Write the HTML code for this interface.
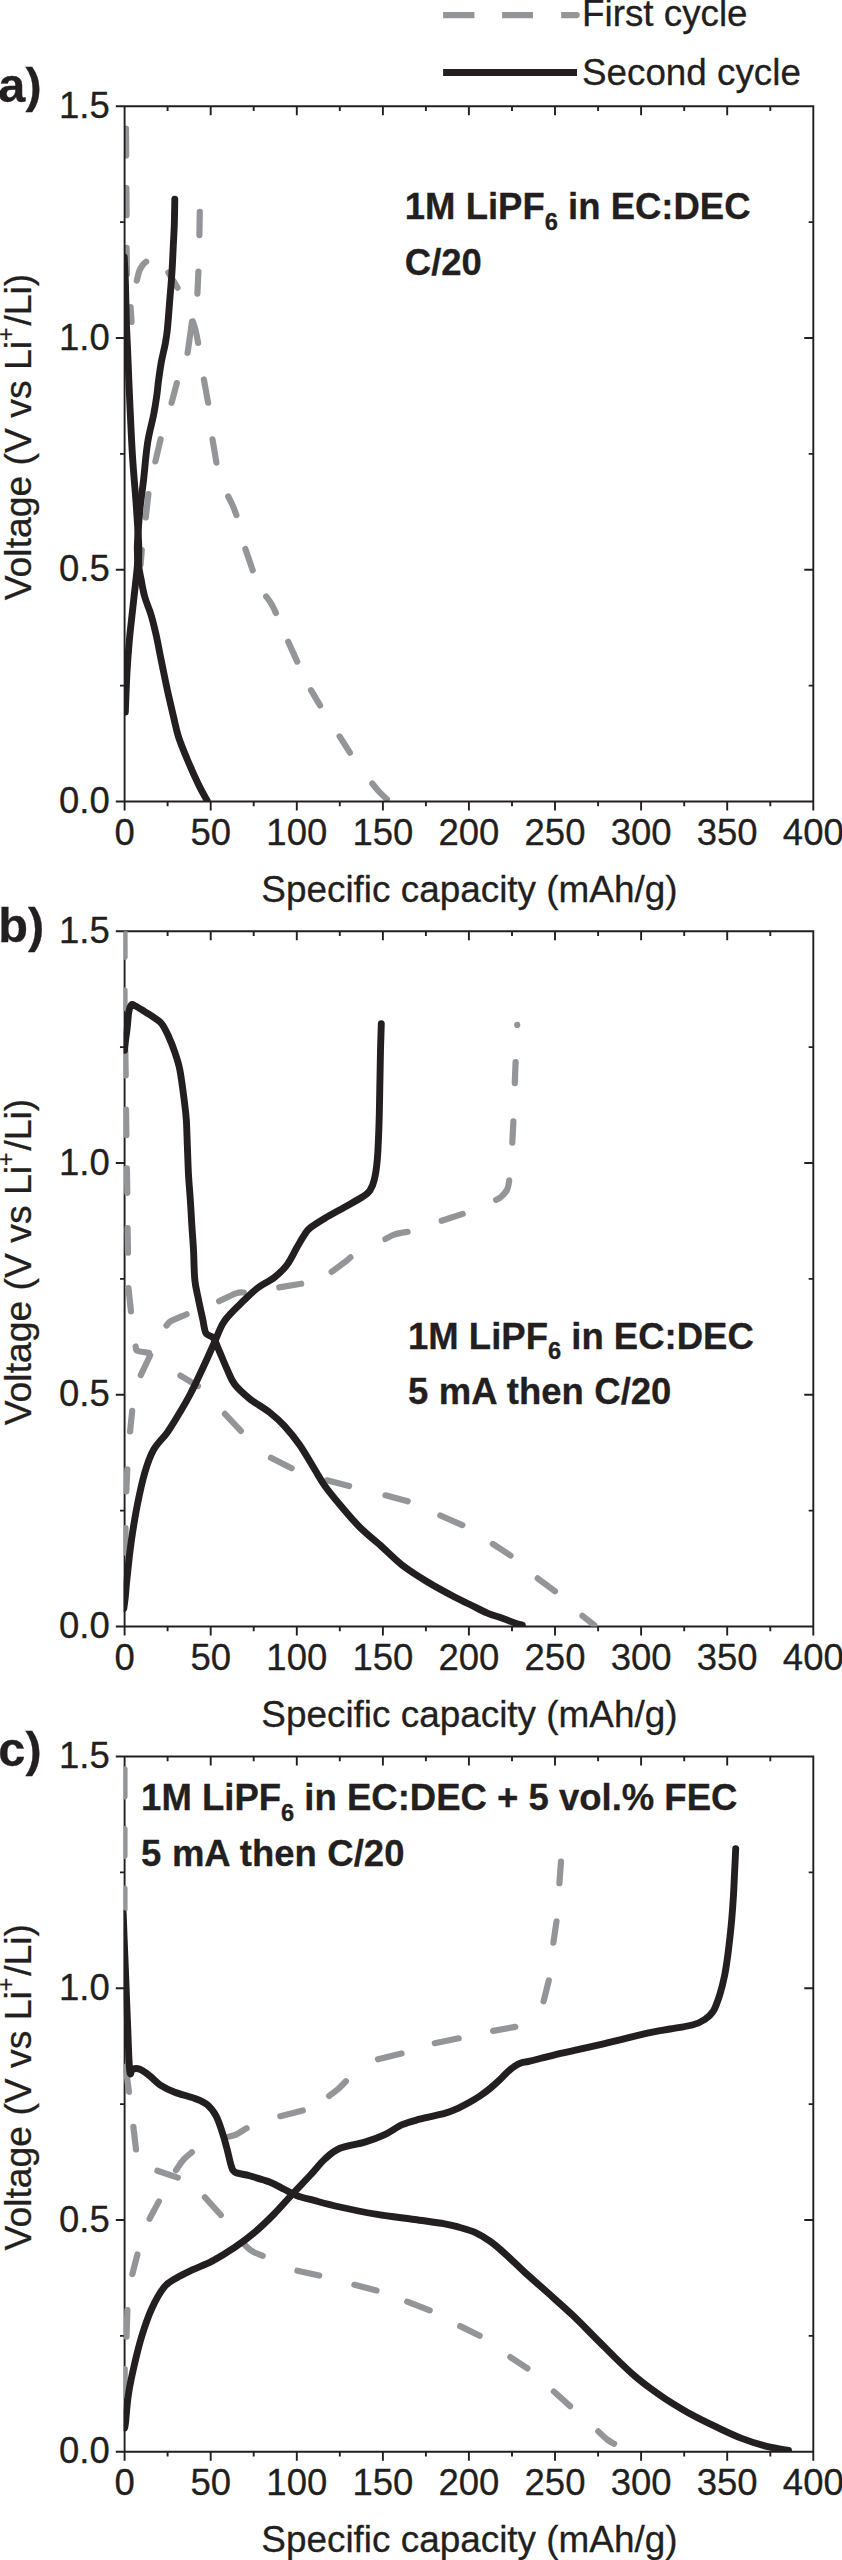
<!DOCTYPE html>
<html lang="en">
<head>
<meta charset="utf-8">
<title>Voltage profiles</title>
<style>
html,body{margin:0;padding:0;background:#fff;}
body{width:842px;height:2560px;overflow:hidden;}
svg{display:block;}
text{white-space:pre;}
</style>
</head>
<body>
<svg width="842" height="2560" viewBox="0 0 842 2560">
<rect width="842" height="2560" fill="#fff"/>
<defs>
<clipPath id="cp0"><rect x="124.6" y="106.2" width="688.7" height="695.2"/></clipPath>
<clipPath id="cp1"><rect x="123.6" y="931.2" width="689.7" height="695.2"/></clipPath>
<clipPath id="cp2"><rect x="123.6" y="1756.5" width="689.7" height="695.2"/></clipPath>
</defs>
<g fill="none" stroke-width="6.2">
<path d="M443.1 15.1H474.4M502.1 15.1H533M561.2 15.1H576.7" stroke="#939598"/>
<circle cx="576.7" cy="15.1" r="3.1" fill="#939598" stroke="none"/>
<path d="M443.1 72.5H577" stroke="#231f20" stroke-width="6.9"/>
</g>
<g font-family='"Liberation Sans", Arial, Helvetica, sans-serif' font-size="36.5" fill="#231f20" stroke="#231f20" stroke-width="0.3" stroke-linejoin="round">
<text x="582" y="26.3" font-size="36.8">First cycle</text>
<text x="582" y="84.9" font-size="36.8">Second cycle</text>
</g>
<g id="panel-a">
<g clip-path="url(#cp0)" fill="none" stroke-linejoin="round">
<g stroke="#939598" stroke-width="6.2" stroke-linecap="round">
<path d="M126 128.7 L126.2 155.5"/>
<path d="M126.4 188 L126.6 215.2"/>
<path d="M126.6 247.8 L127 274.1"/>
<path d="M130.6 307.1 L131.6 321.9"/>
<path d="M136.8 280.5 C137.3 278.8 138.4 273.2 139.5 270.5 C140.6 267.8 142.4 265.4 143.5 264 C144.6 262.6 145.7 262.2 146.2 261.8"/>
<path d="M168.4 272.6 L177.5 287.7"/>
<path d="M192.9 321.5 C193.3 322.9 194.6 326.4 195.5 330 C196.4 333.6 197.7 340.8 198.1 342.9"/>
<path d="M203.9 379.5 L208.1 402.7"/>
<path d="M212.5 439.3 L216.4 462.6"/>
<path d="M228.2 496.5 C228.9 497.9 231.1 501.9 232.5 505 C233.9 508.1 235.8 513.5 236.4 515.1"/>
<path d="M245.4 549 L252.7 570.2"/>
<path d="M266.2 596.6 C267.1 597.8 269.9 601.3 271.5 604 C273.1 606.7 275.2 611.5 275.9 613"/>
<path d="M288.2 641.7 L297.2 661.6"/>
<path d="M311 690.2 L320 705.4"/>
<path d="M339.6 736.4 L349.9 752.7"/>
<path d="M372.3 783.6 C373.3 784.8 375.6 787.9 378 790.5 C380.4 793.1 385.4 797.8 386.9 799.2"/>
<path d="M199.8 211.8 L199.4 235.1"/>
<path d="M198.4 271.7 L197.4 293.7"/>
<path d="M192 321.6 L187.6 352.9"/>
<path d="M176.8 383.1 L171.6 402.8"/>
<path d="M160.6 439.2 L155.4 461.4"/>
<path d="M148.4 494.2 L145.8 517.4"/>
<path d="M141.8 550.1 L140.7 563.9"/>
</g>
<g stroke="#231f20" stroke-width="6.9" stroke-linecap="round">
<path d="M124.2 257 C124.4 261.7 125.2 274.5 125.5 285 C125.8 295.5 126 309.2 126.3 320 C126.6 330.8 127 335.9 127.6 350 C128.2 364.1 129.1 387.4 129.9 404.8 C130.7 422.2 131.4 438.1 132.4 454.7 C133.4 471.3 135.1 489.6 136.2 504.6 C137.2 519.6 138.3 534.4 138.7 544.5 C139.1 554.6 138.3 559.1 138.7 565 C139.1 570.9 140.2 574.6 141.2 580 C142.2 585.4 143.2 591.6 144.9 597.4 C146.6 603.2 149.2 608.7 151.1 614.9 C153 621.1 154.4 627.3 156.1 634.8 C157.8 642.3 159.2 650.6 161.1 659.8 C163 668.9 165.2 680.2 167.3 689.7 C169.4 699.2 171.7 709.2 173.6 717.1 C175.5 725 176.3 730 178.6 737.1 C180.9 744.2 184 751.6 187.3 759.5 C190.6 767.4 195.2 777.6 198.5 784.5 C201.8 791.4 205.8 798 207.2 800.7"/>
<path d="M174.8 199.3 C174.7 203.5 174.6 216.3 174.3 224.7 C174 233.1 173.5 241.3 173.1 249.6 C172.7 257.9 172.4 266.3 171.8 274.6 C171.2 282.9 170.6 290.3 169.8 299.5 C169.1 308.7 168.1 322.4 167.3 330 C166.5 337.6 166 339.8 165 345 C164 350.2 162.6 355.2 161.5 361 C160.4 366.8 159.4 374.4 158.6 380 C157.8 385.6 157.7 389 156.9 394.8 C156.1 400.6 155 407.7 153.6 414.8 C152.2 421.9 149.8 430.6 148.6 437.2 C147.3 443.8 146.9 447.6 146.1 454.7 C145.3 461.8 144.6 470.5 143.6 479.6 C142.6 488.8 140.9 498.8 139.9 509.6 C138.9 520.4 137.8 535.3 137.4 544.5 C137 553.7 138 555.8 137.4 565 C136.8 574.2 135 587.4 133.7 599.9 C132.4 612.4 130.5 627.8 129.4 639.8 C128.3 651.8 127.7 660.2 127 672.2 C126.3 684.2 125.6 705.5 125.3 712.1"/>
</g>
</g>
<path d="M124.6 106.2H813.3V801.5H124.6ZM124.6 801.5v9M167.6 801.5v4.8M167.6 106.2v4.8M210.7 801.5v9M210.7 106.2v9M253.7 801.5v4.8M253.7 106.2v4.8M296.8 801.5v9M296.8 106.2v9M339.8 801.5v4.8M339.8 106.2v4.8M382.9 801.5v9M382.9 106.2v9M425.9 801.5v4.8M425.9 106.2v4.8M468.9 801.5v9M468.9 106.2v9M512 801.5v4.8M512 106.2v4.8M555 801.5v9M555 106.2v9M598.1 801.5v4.8M598.1 106.2v4.8M641.1 801.5v9M641.1 106.2v9M684.2 801.5v4.8M684.2 106.2v4.8M727.2 801.5v9M727.2 106.2v9M770.3 801.5v4.8M770.3 106.2v4.8M813.3 801.5v9M124.6 106.2h-8.8M124.6 222.1h-4.6M813.3 222.1h-4.6M124.6 338h-8.8M813.3 338h-9M124.6 453.9h-4.6M813.3 453.9h-4.6M124.6 569.8h-8.8M813.3 569.8h-9M124.6 685.6h-4.6M813.3 685.6h-4.6M124.6 801.5h-8.8" fill="none" stroke="#231f20" stroke-width="1.9" stroke-linecap="butt" stroke-linejoin="miter"/>
<g font-family='"Liberation Sans", Arial, Helvetica, sans-serif' font-size="36.5" fill="#231f20" stroke="#231f20" stroke-width="0.3" stroke-linejoin="round">
<g text-anchor="middle">
<text x="124.6" y="844.8">0</text>
<text x="210.7" y="844.8">50</text>
<text x="296.8" y="844.8">100</text>
<text x="382.9" y="844.8">150</text>
<text x="468.9" y="844.8">200</text>
<text x="555" y="844.8">250</text>
<text x="641.1" y="844.8">300</text>
<text x="727.2" y="844.8">350</text>
<text x="813.3" y="844.8">400</text>
<text x="469.4" y="901.9" font-size="36.9">Specific capacity (mAh/g)</text>
</g>
<g text-anchor="end">
<text x="109.8" y="117.8">1.5</text>
<text x="109.8" y="349.6">1.0</text>
<text x="109.8" y="581.4">0.5</text>
<text x="109.8" y="813.1">0.0</text>
</g>
<text transform="translate(30.8 437) rotate(-90)" text-anchor="middle" font-size="37.3">Voltage (V vs Li<tspan font-size="23" dy="-16.6">+</tspan><tspan dy="16.6" dx="2">/Li)</tspan></text>
</g>
<g font-family='"Liberation Sans", Arial, Helvetica, sans-serif' font-weight="bold" fill="#231f20" stroke="#231f20" stroke-width="0.3" stroke-linejoin="round">
<text x="-1.7" y="101.8" font-size="48.7">a)</text>
<text x="404.8" y="219.3" font-size="36.5">1M LiPF<tspan font-size="23.7" dy="10.6">6</tspan><tspan dy="-10.6"> in EC:DEC</tspan></text>
<text x="404.8" y="274.6" font-size="36.5" word-spacing="0.35">C/20</text>
</g>
</g>
<g id="panel-b">
<path d="M124.6 931.2H813.3V1626.5H124.6ZM124.6 1626.5v9M167.6 1626.5v4.8M167.6 931.2v4.8M210.7 1626.5v9M210.7 931.2v9M253.7 1626.5v4.8M253.7 931.2v4.8M296.8 1626.5v9M296.8 931.2v9M339.8 1626.5v4.8M339.8 931.2v4.8M382.9 1626.5v9M382.9 931.2v9M425.9 1626.5v4.8M425.9 931.2v4.8M468.9 1626.5v9M468.9 931.2v9M512 1626.5v4.8M512 931.2v4.8M555 1626.5v9M555 931.2v9M598.1 1626.5v4.8M598.1 931.2v4.8M641.1 1626.5v9M641.1 931.2v9M684.2 1626.5v4.8M684.2 931.2v4.8M727.2 1626.5v9M727.2 931.2v9M770.3 1626.5v4.8M770.3 931.2v4.8M813.3 1626.5v9M124.6 931.2h-8.8M124.6 1047.1h-4.6M813.3 1047.1h-4.6M124.6 1163h-8.8M813.3 1163h-9M124.6 1278.9h-4.6M813.3 1278.9h-4.6M124.6 1394.8h-8.8M813.3 1394.8h-9M124.6 1510.6h-4.6M813.3 1510.6h-4.6M124.6 1626.5h-8.8" fill="none" stroke="#231f20" stroke-width="1.9" stroke-linecap="butt" stroke-linejoin="miter"/>
<g clip-path="url(#cp1)" fill="none" stroke-linejoin="round">
<g stroke="#939598" stroke-width="6.2" stroke-linecap="round">
<path d="M124.5 930.1 L124.6 956.8"/>
<path d="M124.5 990.3 L124.6 1007.9"/>
<path d="M125.3 1051.1 L125.7 1075.4"/>
<path d="M126 1109.7 L126.4 1135.2"/>
<path d="M126.9 1168.3 L127.3 1192.8"/>
<path d="M127.6 1228.1 L128 1252.7"/>
<path d="M128.4 1288 L131 1311.3"/>
<path d="M135.7 1346.5 C136 1347.2 135.2 1349.7 137.4 1350.8 C139.6 1351.9 147.1 1352.6 149 1352.9"/>
<path d="M180.4 1375.6 L198 1386.1"/>
<path d="M224.9 1413.9 L240.8 1430.9"/>
<path d="M271 1457.8 L291.6 1468.2"/>
<path d="M326.9 1480.3 L349.1 1486"/>
<path d="M385.5 1495.3 L407.7 1501.3"/>
<path d="M440.3 1515.5 L462.3 1525.1"/>
<path d="M492.8 1543.9 L510.5 1555.5"/>
<path d="M537.7 1578.4 L555 1591.2"/>
<path d="M582.5 1615.8 L594.3 1625.2"/>
<path d="M125.5 1528.1 L125.5 1552.5"/>
<path d="M127.3 1469.4 L126.3 1491.4"/>
<path d="M132.2 1410.8 L130.1 1431.5"/>
<path d="M150.2 1355.2 L140.8 1375.1"/>
<path d="M166.5 1325.5 C167.2 1324.8 167.7 1322.9 171 1321 C174.3 1319.1 184 1315.4 186.6 1314.2"/>
<path d="M219.1 1301.2 C221.9 1299.9 231.8 1294.9 235.9 1293.4 C240 1291.9 242.5 1292.6 243.8 1292.5"/>
<path d="M279.2 1287.4 L301.2 1283.7"/>
<path d="M331.7 1271.8 C333.9 1270.1 341.9 1264.4 345 1262 C348.1 1259.6 349.5 1258.1 350.4 1257.4"/>
<path d="M385.4 1239 C387 1238.2 391.1 1235.6 394.8 1234.4 C398.5 1233.2 405.5 1232.2 407.6 1231.8"/>
<path d="M441.7 1220.7 L462.7 1213.9"/>
<path d="M496.1 1199.8 C496.9 1199.3 499.2 1198.7 501 1197 C502.8 1195.3 505.8 1192.3 507.2 1189.5 C508.6 1186.7 508.9 1181.9 509.2 1180.3"/>
<path d="M512.3 1142.6 L513.4 1121.3"/>
<path d="M514.8 1083.2 L515.6 1062"/>
<path d="M517.2 1024.9 L517.2 1024.9"/>
</g>
<g stroke="#231f20" stroke-width="6.9" stroke-linecap="round">
<path d="M124.5 1050.3 C124.7 1048.6 125.1 1043.7 125.6 1040 C126 1036.3 126.7 1032.7 127.2 1028 C127.7 1023.3 128.1 1015.9 128.8 1012 C129.5 1008.1 130.4 1005.7 131.5 1004.7 C132.6 1003.7 133.3 1004.9 135.5 1006 C137.7 1007.1 141.5 1009.6 144.4 1011.4 C147.3 1013.2 150.1 1014.8 153 1016.8 C155.9 1018.8 159 1020.4 161.6 1023.6 C164.2 1026.8 166.2 1031.2 168.4 1036 C170.6 1040.8 172.9 1046.6 174.8 1052.2 C176.7 1057.8 178.4 1062.5 179.8 1069.6 C181.2 1076.7 182.4 1086.3 183.5 1094.6 C184.6 1102.9 185.7 1111.2 186.3 1119.5 C186.9 1127.8 186.9 1135.3 187.3 1144.5 C187.7 1153.7 188 1165.7 188.5 1174.9 C189 1184.1 189.8 1191.6 190.3 1199.9 C190.9 1208.2 191.3 1216.5 191.8 1224.8 C192.3 1233.1 193 1240.6 193.5 1249.8 C194 1259 194 1271.4 194.8 1279.7 C195.6 1288 197.2 1292.9 198.5 1299.6 C199.8 1306.2 201.6 1314 202.8 1319.6 C204.1 1325.2 204.2 1330.2 206 1333.3 C207.8 1336.4 211.2 1335.2 213.5 1338.3 C215.8 1341.4 217.4 1346.8 219.7 1352 C222 1357.2 224.7 1364.1 227.2 1369.5 C229.7 1374.9 231 1379.5 234.7 1384.4 C238.4 1389.3 243.8 1394 249.6 1398.7 C255.4 1403.4 263.8 1407.8 269.6 1412.4 C275.4 1417 279.6 1420.7 284.6 1426.1 C289.6 1431.5 294.4 1437.5 299.5 1444.8 C304.6 1452.1 310.7 1462.9 314.9 1469.8 C319.1 1476.7 320.7 1480.2 324.9 1486 C329.1 1491.8 334.1 1497.9 339.9 1504.8 C345.7 1511.7 352.7 1520.2 359.8 1527.2 C366.9 1534.2 374.8 1540.4 382.3 1547.1 C389.8 1553.8 396.8 1561.1 404.7 1567.1 C412.6 1573.1 421.4 1578.3 429.7 1583.3 C438 1588.3 447.9 1593.5 454.6 1597 C461.3 1600.5 464.4 1601.8 469.9 1604.5 C475.4 1607.2 482 1610.9 487.4 1613.2 C492.8 1615.5 497.8 1616.6 502.4 1618.2 C507 1619.8 511.5 1621.9 514.8 1623 C518.1 1624.1 521 1624.7 522.3 1625"/>
<path d="M123.8 1608.5 C124 1606.6 124.8 1601.8 125.3 1597 C125.8 1592.2 125.9 1588.7 126.9 1579.5 C127.9 1570.3 129.4 1554.6 131.2 1542.1 C132.9 1529.6 135.1 1516.3 137.4 1504.7 C139.7 1493.1 142.2 1481.5 144.9 1472.3 C147.6 1463.1 149.9 1456.4 153.6 1449.8 C157.3 1443.2 162.9 1438.6 167.3 1432.4 C171.7 1426.2 176.1 1418.6 179.8 1412.4 C183.6 1406.2 186.5 1401.3 189.8 1395 C193.1 1388.7 195.9 1382.9 199.8 1374.5 C203.8 1366.1 209.8 1352.8 213.5 1344.5 C217.2 1336.2 219.5 1329.6 222.2 1324.6 C224.9 1319.6 226.4 1318.3 229.7 1314.6 C233 1310.8 237.6 1306.5 242.2 1302.1 C246.8 1297.7 251.7 1292.6 257.1 1288.4 C262.5 1284.2 269.6 1281.2 274.6 1277.2 C279.6 1273.2 283.4 1269.7 287.1 1264.7 C290.8 1259.7 294.1 1252.3 297 1247.3 C299.9 1242.3 302.3 1238 304.5 1234.8 C306.7 1231.6 306.6 1230.8 310 1228 C313.4 1225.2 319.1 1221.7 324.9 1218.2 C330.7 1214.7 338.7 1210.5 344.9 1207 C351.1 1203.5 358.1 1199.7 362.3 1197 C366.5 1194.3 367.8 1193.7 369.8 1190.8 C371.8 1187.9 373.1 1184.8 374.3 1179.6 C375.6 1174.4 376.5 1168.8 377.3 1159.6 C378.1 1150.4 378.6 1136.8 379 1124.7 C379.4 1112.7 379.6 1099.8 379.8 1087.3 C380.1 1074.8 380.2 1060.5 380.5 1049.9 C380.8 1039.3 381.2 1028.1 381.3 1023.7"/>
</g>
</g>
<g font-family='"Liberation Sans", Arial, Helvetica, sans-serif' font-size="36.5" fill="#231f20" stroke="#231f20" stroke-width="0.3" stroke-linejoin="round">
<g text-anchor="middle">
<text x="124.6" y="1669.8">0</text>
<text x="210.7" y="1669.8">50</text>
<text x="296.8" y="1669.8">100</text>
<text x="382.9" y="1669.8">150</text>
<text x="468.9" y="1669.8">200</text>
<text x="555" y="1669.8">250</text>
<text x="641.1" y="1669.8">300</text>
<text x="727.2" y="1669.8">350</text>
<text x="813.3" y="1669.8">400</text>
<text x="469.4" y="1726.9" font-size="36.9">Specific capacity (mAh/g)</text>
</g>
<g text-anchor="end">
<text x="109.8" y="942.9">1.5</text>
<text x="109.8" y="1174.6">1.0</text>
<text x="109.8" y="1406.3">0.5</text>
<text x="109.8" y="1638.1">0.0</text>
</g>
<text transform="translate(30.8 1262) rotate(-90)" text-anchor="middle" font-size="37.3">Voltage (V vs Li<tspan font-size="23" dy="-16.6">+</tspan><tspan dy="16.6" dx="2">/Li)</tspan></text>
</g>
<g font-family='"Liberation Sans", Arial, Helvetica, sans-serif' font-weight="bold" fill="#231f20" stroke="#231f20" stroke-width="0.3" stroke-linejoin="round">
<text x="-1.7" y="941.8" font-size="48.7">b)</text>
<text x="408" y="1348.7" font-size="36.5">1M LiPF<tspan font-size="23.7" dy="10.6">6</tspan><tspan dy="-10.6"> in EC:DEC</tspan></text>
<text x="408" y="1404" font-size="36.5" word-spacing="0.35">5 mA then C/20</text>
</g>
</g>
<g id="panel-c">
<path d="M124.6 1756.5H813.3V2451.8H124.6ZM124.6 2451.8v9M167.6 2451.8v4.8M167.6 1756.5v4.8M210.7 2451.8v9M210.7 1756.5v9M253.7 2451.8v4.8M253.7 1756.5v4.8M296.8 2451.8v9M296.8 1756.5v9M339.8 2451.8v4.8M339.8 1756.5v4.8M382.9 2451.8v9M382.9 1756.5v9M425.9 2451.8v4.8M425.9 1756.5v4.8M468.9 2451.8v9M468.9 1756.5v9M512 2451.8v4.8M512 1756.5v4.8M555 2451.8v9M555 1756.5v9M598.1 2451.8v4.8M598.1 1756.5v4.8M641.1 2451.8v9M641.1 1756.5v9M684.2 2451.8v4.8M684.2 1756.5v4.8M727.2 2451.8v9M727.2 1756.5v9M770.3 2451.8v4.8M770.3 1756.5v4.8M813.3 2451.8v9M124.6 1756.5h-8.8M124.6 1872.4h-4.6M813.3 1872.4h-4.6M124.6 1988.2h-8.8M813.3 1988.2h-9M124.6 2104.1h-4.6M813.3 2104.1h-4.6M124.6 2220h-8.8M813.3 2220h-9M124.6 2335.9h-4.6M813.3 2335.9h-4.6M124.6 2451.8h-8.8" fill="none" stroke="#231f20" stroke-width="1.9" stroke-linecap="butt" stroke-linejoin="miter"/>
<g clip-path="url(#cp2)" fill="none" stroke-linejoin="round">
<g stroke="#939598" stroke-width="6.2" stroke-linecap="round">
<path d="M124.5 1769.3 L124.5 1796.5"/>
<path d="M124.5 1829 L124.5 1855.8"/>
<path d="M124.5 1888.7 L124.5 1909.4"/>
<path d="M125.6 2066.9 L129 2091.9"/>
<path d="M133.4 2126.8 L136 2149.5"/>
<path d="M157.4 2170.7 L177.8 2177.6"/>
<path d="M204.9 2197.3 L220.8 2215"/>
<path d="M245 2245.1 C246.2 2246.1 249.2 2249.4 252.1 2251.2 C255 2253 260.9 2255 262.7 2255.8"/>
<path d="M297.4 2270.7 L319.2 2275.6"/>
<path d="M354.4 2284.8 L376.5 2290.6"/>
<path d="M407.2 2301.7 L429.7 2310.3"/>
<path d="M460.2 2326.1 L479.7 2335.7"/>
<path d="M510.3 2357.1 L527.4 2368.4"/>
<path d="M553.9 2391.5 L570.1 2406.1"/>
<path d="M598.3 2431.4 C599.7 2432.8 604.5 2437.4 607.1 2439.5 C609.7 2441.6 612.9 2443.1 614.1 2443.8"/>
<path d="M124.7 2369 L124.7 2395.5"/>
<path d="M127.4 2310.2 L126.5 2336.7"/>
<path d="M137.4 2254.4 L132.4 2274.1"/>
<path d="M158.9 2201.4 L149.6 2218.8"/>
<path d="M176 2170.3 C177.3 2168.5 180.8 2162.6 183.5 2159.6 C186.2 2156.6 190.5 2153.4 191.9 2152.2"/>
<path d="M229.2 2136.5 C230.3 2136.2 233 2136 235.9 2134.6 C238.8 2133.2 244.8 2129.3 246.6 2128.3"/>
<path d="M280.3 2116.2 L302.8 2110.5"/>
<path d="M329.1 2095.9 C330.5 2094.9 334.6 2092.1 337.4 2089.7 C340.2 2087.3 344.5 2082.7 345.9 2081.3"/>
<path d="M378 2059.3 L401.5 2053.6"/>
<path d="M434.8 2043.2 L458.7 2038.3"/>
<path d="M493.1 2030.9 L515.3 2026.9"/>
<path d="M543.6 2001.3 L548.8 1980.4"/>
<path d="M553.4 1942.6 L556.5 1921.4"/>
<path d="M559.4 1883.2 L561 1861.5"/>
</g>
<g stroke="#231f20" stroke-width="6.9" stroke-linecap="round">
<path d="M123.2 1913.5 C123.4 1919.6 124.1 1937.8 124.6 1950 C125.1 1962.2 125.6 1973.7 126.1 1987 C126.6 2000.3 127.3 2017.8 127.8 2030 C128.3 2042.2 128.6 2052.7 129 2060 C129.4 2067.3 129.6 2072 130.2 2073.6 C130.8 2075.2 131 2070 132.6 2069.3 C134.2 2068.6 137 2068.2 139.9 2069.3 C142.8 2070.4 146.6 2073.4 149.9 2076 C153.2 2078.6 155.8 2082.1 159.9 2084.8 C164.1 2087.5 169 2089.9 174.8 2092.2 C180.6 2094.5 189.4 2096.4 194.8 2098.5 C200.2 2100.6 203.7 2101.8 207.2 2104.7 C210.7 2107.6 213.5 2111.3 216 2115.9 C218.5 2120.5 220.3 2126.5 222.2 2132.1 C224.1 2137.7 225.8 2144.2 227.2 2149.6 C228.6 2155 229.7 2160.9 230.9 2164.6 C232.2 2168.3 231.6 2170.1 234.7 2172 C237.8 2173.9 243.8 2174.1 249.6 2175.8 C255.4 2177.5 263.8 2179.7 269.6 2182 C275.4 2184.3 280 2187.2 284.6 2189.5 C289.2 2191.8 291.9 2193.8 297 2195.7 C302.1 2197.6 307.8 2198.8 314.9 2200.7 C322 2202.6 329.5 2204.7 339.9 2207 C350.3 2209.3 364.8 2212.3 377.3 2214.4 C389.8 2216.5 403.5 2217.9 414.7 2219.5 C425.9 2221.1 437.1 2222.5 444.6 2223.8 C452.2 2225.1 454.9 2226.1 460 2227.5 C465.1 2228.9 470 2230.1 475 2232.4 C480 2234.7 484.9 2237.7 489.9 2241.2 C494.9 2244.7 499.1 2248.4 504.9 2253.6 C510.7 2258.8 517.7 2265.9 524.8 2272.4 C531.9 2278.9 539.4 2285.2 547.3 2292.3 C555.2 2299.4 564.3 2307.3 572.2 2314.8 C580.1 2322.3 587.6 2330.1 594.7 2337.2 C601.8 2344.2 608 2350.6 614.6 2357.1 C621.2 2363.6 628.4 2370.5 634.6 2375.9 C640.8 2381.3 646.6 2385.6 652 2389.6 C657.4 2393.6 660.2 2395.6 666.9 2399.8 C673.5 2404 683.6 2410.2 691.9 2414.8 C700.2 2419.4 708.5 2423.3 716.8 2427.2 C725.1 2431.1 733.4 2435.2 741.7 2438.4 C750 2441.6 758.9 2444.4 766.7 2446.4 C774.5 2448.4 784.9 2449.7 788.5 2450.3"/>
<path d="M124.6 2428 C124.8 2427.1 124.8 2428.2 125.5 2422.5 C126.2 2416.8 127 2403.5 128.5 2394 C129.9 2384.5 132 2375 134.2 2365.5 C136.4 2356 138.6 2346.5 141.5 2337 C144.4 2327.5 148 2316.8 151.8 2308.5 C155.6 2300.2 160.1 2292.2 164.2 2287.1 C168.3 2282 171.8 2280.9 176.5 2278 C181.2 2275.1 186.4 2272.7 192.3 2269.9 C198.2 2267.1 205.1 2264.8 212.2 2261.1 C219.3 2257.3 227.6 2252.2 234.7 2247.4 C241.8 2242.6 247.9 2238.1 254.6 2232.4 C261.2 2226.8 268.3 2219.9 274.6 2213.5 C280.9 2207.1 286.6 2200.3 292.5 2194 C298.4 2187.7 304.6 2181.3 310 2175.5 C315.4 2169.7 319.9 2163.5 324.9 2159 C329.9 2154.5 333.2 2151.1 339.9 2148.3 C346.5 2145.5 357.3 2144.4 364.8 2142.1 C372.3 2139.8 378.6 2137.5 384.8 2134.6 C391 2131.7 396.4 2127.3 402.2 2124.7 C408 2122.1 412.6 2121.1 419.7 2119.2 C426.8 2117.3 438.7 2115 444.6 2113.4 C450.5 2111.8 450.7 2111.6 454.9 2109.7 C459.1 2107.8 465.4 2104.5 469.6 2102.2 C473.8 2099.9 476.5 2098.3 479.9 2096 C483.3 2093.7 486.7 2091.2 490 2088.5 C493.3 2085.8 496.9 2082.6 499.8 2079.8 C502.7 2077.1 505 2074.3 507.5 2072 C510 2069.7 512.5 2067.6 514.8 2066.1 C517.1 2064.6 519 2063.6 521.5 2062.8 C524 2062 524.3 2062.4 529.8 2061.1 C535.3 2059.8 546.3 2056.8 554.7 2054.8 C563.1 2052.8 571.7 2051.1 580 2049.2 C588.3 2047.3 597.9 2045.2 604.6 2043.6 C611.3 2042 614.1 2041.2 620 2039.8 C625.9 2038.3 634.2 2036.3 640 2034.9 C645.8 2033.5 650 2032.6 655 2031.6 C660 2030.6 663.7 2030.1 669.9 2029 C676.1 2027.9 686.5 2026.6 692.3 2025 C698.1 2023.4 701.3 2021.9 704.8 2019.5 C708.3 2017.1 711 2015 713.5 2010.8 C716 2006.6 717.9 2000.6 719.8 1994.6 C721.7 1988.6 723.3 1982.1 724.8 1974.6 C726.2 1967.1 727.4 1958.8 728.5 1949.7 C729.6 1940.6 730.9 1929 731.7 1919.8 C732.5 1910.6 733 1903.1 733.5 1894.8 C734 1886.5 734.3 1877.6 734.7 1869.9 C735.1 1862.2 735.5 1852.2 735.7 1848.7"/>
</g>
</g>
<g font-family='"Liberation Sans", Arial, Helvetica, sans-serif' font-size="36.5" fill="#231f20" stroke="#231f20" stroke-width="0.3" stroke-linejoin="round">
<g text-anchor="middle">
<text x="124.6" y="2495.1">0</text>
<text x="210.7" y="2495.1">50</text>
<text x="296.8" y="2495.1">100</text>
<text x="382.9" y="2495.1">150</text>
<text x="468.9" y="2495.1">200</text>
<text x="555" y="2495.1">250</text>
<text x="641.1" y="2495.1">300</text>
<text x="727.2" y="2495.1">350</text>
<text x="813.3" y="2495.1">400</text>
<text x="469.4" y="2552.2" font-size="36.9">Specific capacity (mAh/g)</text>
</g>
<g text-anchor="end">
<text x="109.8" y="1768.1">1.5</text>
<text x="109.8" y="1999.8">1.0</text>
<text x="109.8" y="2231.6">0.5</text>
<text x="109.8" y="2463.3">0.0</text>
</g>
<text transform="translate(30.8 2087.2) rotate(-90)" text-anchor="middle" font-size="37.3">Voltage (V vs Li<tspan font-size="23" dy="-16.6">+</tspan><tspan dy="16.6" dx="2">/Li)</tspan></text>
</g>
<g font-family='"Liberation Sans", Arial, Helvetica, sans-serif' font-weight="bold" fill="#231f20" stroke="#231f20" stroke-width="0.3" stroke-linejoin="round">
<text x="-1.7" y="1765.6" font-size="48.7">c)</text>
<text x="141.1" y="1810.1" font-size="36.5">1M LiPF<tspan font-size="23.7" dy="10.6">6</tspan><tspan dy="-10.6"> in EC:DEC + 5 vol.% FEC</tspan></text>
<text x="141.1" y="1865.5" font-size="36.5" word-spacing="0.35">5 mA then C/20</text>
</g>
</g>
</svg>
</body>
</html>
